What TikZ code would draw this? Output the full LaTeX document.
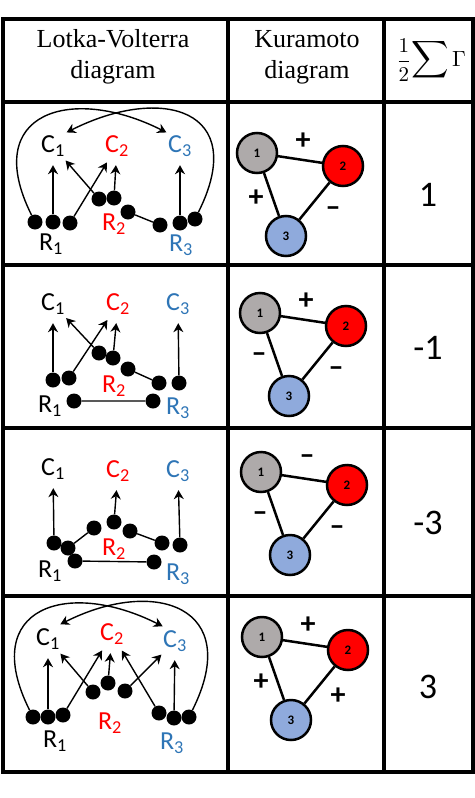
\documentclass[tikz,border=0pt]{standalone}
\usepackage{amsmath}
\usepackage{graphicx}
\usepackage{fontspec}
\newfontfamily\lvfont{Carlito}
\newfontfamily\hdfont{Liberation Serif}
\usepackage{tikz}
\usetikzlibrary{arrows.meta}
\definecolor{cred}{RGB}{255,0,0}
\definecolor{cblue}{RGB}{46,117,182}
\definecolor{kgray}{RGB}{174,170,170}
\definecolor{kblue}{RGB}{143,170,220}
\tikzset{
  tab/.style={line width=4pt},
  hd/.style={align=center,font=\hdfont\fontsize{26}{31}\selectfont},
  dot/.style={circle,fill=black,inner sep=0pt,minimum size=15pt},
  lab/.style={circle,inner sep=0pt,minimum size=38pt,font=\lvfont\fontsize{26}{26}\selectfont},
  rl/.style={inner sep=0pt,font=\lvfont\fontsize{26}{26}\selectfont},
  arr/.style={-{Stealth[length=9pt,width=10pt]},line width=1.4pt},
  lnk/.style={line width=1.4pt},
  osc/.style={circle,draw,line width=2.5pt,minimum size=40pt,inner sep=0pt,font=\lvfont\bfseries\fontsize{13}{13}\selectfont},
  cpl/.style={line width=2.5pt},
  sgn/.style={font=\lvfont\bfseries\fontsize{30}{30}\selectfont},
  val/.style={font=\lvfont\fontsize{36}{36}\selectfont},
}

\begin{document}
\begin{tikzpicture}[x=1pt,y=-1pt]
\useasboundingbox (0,0) rectangle (474,798);
% table
\draw[tab] (3,19) rectangle (473,772);
\foreach \y in {102,265,428,596} \draw[tab] (3,\y) -- (473,\y);
\foreach \x in {228,384} \draw[tab] (\x,19) -- (\x,772);
\node[hd] (hlv) at (113,57) {Lotka-Volterra\\diagram};
\node[hd] (hku) at (307,57) {Kuramoto\\diagram};
\node[inner sep=0pt] (hsum) at (431,60) {\scalebox{2.1}{$\dfrac{1}{2}$}\scalebox{2.6}{$\displaystyle\sum$}\hspace{3pt}\scalebox{2.2}{$\Gamma$}};
% row A
\foreach \n/\x/\y in {1/35/222,2/53/222,3/70/223,4/99/199,5/114/198,6/128/212,7/160/225,8/180/223,9/195/219} \node[dot] (Ad\n) at (\x,\y) {};
\node[lab] (Ac1) at (53,146) {C\textsubscript{1}};
\node[lab,text=cred] (Ac2) at (117,146) {C\textsubscript{2}};
\node[lab,text=cblue] (Ac3) at (180,146) {C\textsubscript{3}};
\foreach \s/\t in {2/1,3/2,4/1,5/2,8/3} \draw[arr] (Ad\s) -- (Ac\t);
\draw[lnk] (Ad6) -- (Ad7);
\draw[arr] (Ad1) .. controls +(-55,-110) and +(-95,-48) .. (Ac3.135);
\draw[arr] (Ad9) .. controls +(55,-110) and +(95,-48) .. (Ac1.45);
\node[rl] (Ar1) at (51,244) {R\textsubscript{1}};
\node[rl,text=cred] (Ar2) at (114,224) {R\textsubscript{2}};
\node[rl,text=cblue] (Ar3) at (181,245) {R\textsubscript{3}};
% row B
\foreach \n/\x/\y in {1/53/380,2/69/378,3/99/353,4/113/358,5/128/369,6/159/383,7/179/383,8/74/401,9/153/401} \node[dot] (Bd\n) at (\x,\y) {};
\node[lab] (Bc1) at (53,304) {C\textsubscript{1}};
\node[lab,text=cred] (Bc2) at (118,304) {C\textsubscript{2}};
\node[lab,text=cblue] (Bc3) at (178,304) {C\textsubscript{3}};
\foreach \s/\t in {1/1,2/2,3/1,4/2,7/3} \draw[arr] (Bd\s) -- (Bc\t);
\draw[lnk] (Bd5) -- (Bd6) (Bd8) -- (Bd9);
\node[rl] (Br1) at (50,406) {R\textsubscript{1}};
\node[rl,text=cred] (Br2) at (114,386) {R\textsubscript{2}};
\node[rl,text=cblue] (Br3) at (178,408) {R\textsubscript{3}};
% row C
\foreach \n/\x/\y in {1/54/543,2/68/548,3/94/528,4/114/522,5/130/531,6/162/543,7/180/545,8/75/561,9/154/562} \node[dot] (Cd\n) at (\x,\y) {};
\node[lab] (Cc1) at (53,469) {C\textsubscript{1}};
\node[lab,text=cred] (Cc2) at (118,471) {C\textsubscript{2}};
\node[lab,text=cblue] (Cc3) at (178,471) {C\textsubscript{3}};
\foreach \s/\t in {1/1,4/2,7/3} \draw[arr] (Cd\s) -- (Cc\t);
\draw[lnk] (Cd2) -- (Cd3) (Cd5) -- (Cd6) (Cd8) -- (Cd9);
\node[rl] (Cr1) at (50,571) {R\textsubscript{1}};
\node[rl,text=cred] (Cr2) at (114,549) {R\textsubscript{2}};
\node[rl,text=cblue] (Cr3) at (178,574) {R\textsubscript{3}};
% row D
\foreach \n/\x/\y in {1/33/717,2/48/717,3/63/715,4/93/692,5/108/683,6/125/691,7/159/713,8/174/718,9/189/717} \node[dot] (Dd\n) at (\x,\y) {};
\node[lab] (Dc1) at (48,639) {C\textsubscript{1}};
\node[lab,text=cred] (Dc2) at (112,634) {C\textsubscript{2}};
\node[lab,text=cblue] (Dc3) at (175,641) {C\textsubscript{3}};
\foreach \s/\t in {2/1,3/2,4/1,5/2,6/3,7/2,8/3} \draw[arr] (Dd\s) -- (Dc\t);
\draw[arr] (Dd1) .. controls +(-55,-110) and +(-95,-48) .. (Dc3.130);
\draw[arr] (Dd9) .. controls +(55,-110) and +(95,-48) .. (Dc1.50);
\node[rl] (Dr1) at (55,741) {R\textsubscript{1}};
\node[rl,text=cred] (Dr2) at (110,723) {R\textsubscript{2}};
\node[rl,text=cblue] (Dr3) at (172,743) {R\textsubscript{3}};
% Kuramoto triangles and sums
\foreach \r/\x/\y/\p/\q/\s/\v/\w in {A/257/153/+/+/–/1/195, B/260/313/+/–/–/-1/348, C/261/472/–/–/–/-3/523, D/262/637/+/+/+/3/687} {
  \begin{scope}[shift={(\x,\y)}]
  \node[osc,fill=kgray] (k1\r) at (0,0) {1};
  \node[osc,fill=cred] (k2\r) at (86,13) {2};
  \node[osc,fill=kblue] (k3\r) at (29,83) {3};
  \draw[cpl] (k1\r) -- (k2\r) (k1\r) -- (k3\r) (k2\r) -- (k3\r);
  \node[sgn] (s12\r) at (46,-12) {\p};
  \node[sgn] (s13\r) at (-1,45) {\q};
  \node[sgn] (s23\r) at (76,59) {\s};
  \end{scope}
  \node[val] (v\r) at (428,\w) {\v};
}
\end{tikzpicture}
\end{document}
